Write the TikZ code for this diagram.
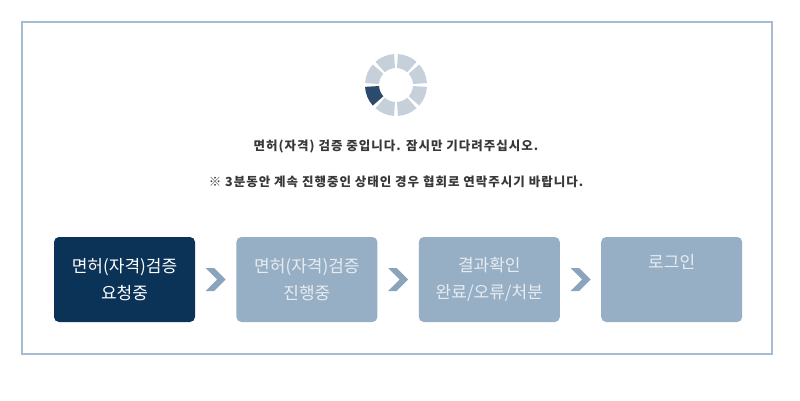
\documentclass[tikz,border=0pt]{standalone}
\usepackage{fontspec}
\setmainfont{Noto Sans CJK KR}
\newfontfamily\msgfont{Noto Sans CJK KR}[LetterSpace=8]
\usetikzlibrary{positioning,calc}
\definecolor{framecol}{HTML}{A7BCD0}
\definecolor{navy}{HTML}{0B3357}
\definecolor{stepgray}{HTML}{97AFC5}
\definecolor{steptext}{HTML}{E6ECF2}
\definecolor{chevcol}{HTML}{8AA4BC}
\definecolor{spinlight}{HTML}{C5D0DA}
\definecolor{spindark}{HTML}{2C4A6B}
\definecolor{msgcol}{HTML}{383838}
\tikzset{
	x=1pt, y=1pt, % one unit is one pixel of the screen
	node distance=41pt, % gap between two step boxes
	stepbox/.style={fill=stepgray, text=steptext, rounded corners=5pt, minimum width=141pt, minimum height=85pt, inner sep=0pt, align=center, font=\fontsize{17}{27}\selectfont}, % each step of the process
	current/.style={fill=navy, text=white}, % the step we are in
	msg/.style={text=msgcol, font=\msgfont\bfseries\fontsize{12.5}{14}\selectfont}, % the messages
	chevron/.pic={\fill[chevcol] (-10,11.5) -- (-1.5,11.5) -- (10,0) -- (-1.5,-11.5) -- (-10,-11.5) -- (1.5,0) -- cycle;}, % arrow between two steps
}
\begin{document}
\begin{tikzpicture}
	\useasboundingbox[fill=white] (0,0) rectangle (800,-400);
	\draw[framecol, line width=1.5pt] (22,-22) rectangle (772,-354);
	
	% spinner
	\coordinate (spin) at (396,-85);
	\begin{scope}[shift={(spin)}]
		\foreach \a in {0,45,...,315}
			\fill[spinlight] (\a+3.5:31) arc[start angle=\a+3.5, end angle=\a+41.5, radius=31] -- (\a+41.5:17) arc[start angle=\a+41.5, end angle=\a+3.5, radius=17] -- cycle;
		\fill[spindark] (183.5:31) arc[start angle=183.5, end angle=221.5, radius=31] -- (221.5:17) arc[start angle=221.5, end angle=183.5, radius=17] -- cycle;
	\end{scope}
	
	\node[msg] (wait) at (396,-146) {면허(자격) 검증 중입니다. 잠시만 기다려주십시오.};
	\node[msg] (note) at (396,-182) {※ 3분동안 계속 진행중인 상태인 경우 협회로 연락주시기 바랍니다.};
	
	\node[stepbox,current] (request) at (124.5,-279.5) {면허(자격)검증\\요청중};
	\node[stepbox,right=of request] (progress) {면허(자격)검증\\진행중};
	\node[stepbox,right=of progress] (result) {결과확인\\완료/오류/처분};
	\node[stepbox,right=of result] (login) {로그인\\\strut};
	
	\pic at ($(request.east)!.5!(progress.west)$) {chevron};
	\pic at ($(progress.east)!.5!(result.west)$) {chevron};
	\pic at ($(result.east)!.5!(login.west)$) {chevron};
\end{tikzpicture}
\end{document}
